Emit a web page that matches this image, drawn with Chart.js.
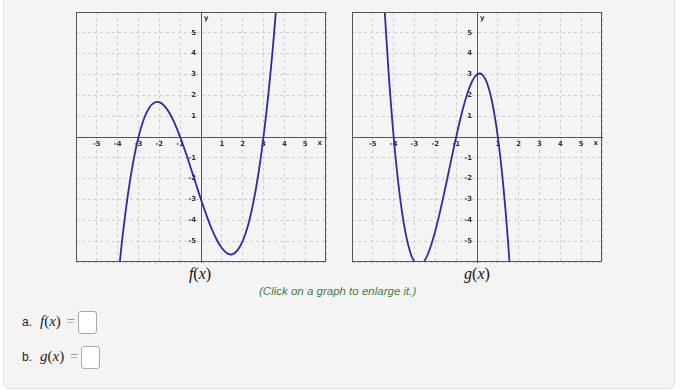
<!DOCTYPE html>
<html>
<head>
<meta charset="utf-8">
<script src="https://cdn.jsdelivr.net/npm/chart.js@4.4.1/dist/chart.umd.min.js"></script>
<style>
  body { margin: 0; background: #fff; width: 700px; height: 391px; overflow: hidden; position: relative; font-family: "Liberation Sans", Arial, sans-serif; }
  #panel { position: absolute; left: 3px; top: -10px; width: 670px; height: 397px; background: #f4f4f4; border: 1px solid #e4e4e4; border-radius: 6px; }
  .plot { position: absolute; top: 11px; width: 252px; height: 252px; }
  .fname { position: absolute; top: 265px; font-family: "Liberation Serif", serif; font-size: 16px; color: #111; transform: translateX(-50%); }
  .fname i { font-style: italic; }
  #hint { position: absolute; left: 259px; top: 285px; font-size: 11.5px; font-style: italic; color: #3f7f3a; }
  .answer { position: absolute; left: 22px; font-size: 12px; color: #222; }
  .answer .m { font-family: "Liberation Serif", serif; font-size: 15px; margin-left: 8px; }
  .answer .eq { color: #888; margin: 0 3px 0 2px; }
  .box { display: inline-block; width: 17px; height: 21px; border: 1px solid #a9a9a9; border-radius: 3px; background: #fff; vertical-align: middle; }
</style>
</head>
<body>
<div id="panel"></div>
<div class="plot" style="left:75px"><canvas id="fChart"></canvas></div>
<div class="plot" style="left:351px"><canvas id="gChart"></canvas></div>
<div class="fname" style="left:200px"><i>f</i>(<i>x</i>)</div>
<div class="fname" style="left:477px"><i>g</i>(<i>x</i>)</div>
<div id="hint">(Click on a graph to enlarge it.)</div>
<div class="answer" style="top:311px">a.<span class="m"><i>f</i>(<i>x</i>) <span class="eq">=</span></span><span class="box"></span></div>
<div class="answer" style="top:346px">b.<span class="m"><i>g</i>(<i>x</i>) <span class="eq">=</span></span><span class="box"></span></div>
<script>
// points
const fX = [-4, -3.75, -3.5, -3.25, -3, -2.75, -2.5, -2.25, -2, -1.75, -1.5, -1.25, -1, -0.75, -0.5, -0.25,
            0, 0.25, 0.5, 0.75, 1, 1.25, 1.5, 1.75, 2, 2.25, 2.5, 2.75, 3, 3.25, 3.5, 3.75];
const fY = [-7, -4.64, -2.71, -1.17, 0, 0.84, 1.38, 1.64, 1.67, 1.48, 1.13, 0.62, 0, -0.7, -1.46, -2.23,
            -3, -3.72, -4.38, -4.92, -5.33, -5.58, -5.63, -5.44, -5, -4.27, -3.21, -1.8, 0, 2.21, 4.88, 8.02];

const gX = [-4.5, -4.25, -4, -3.75, -3.5, -3.25, -3, -2.75, -2.5, -2.25, -2, -1.75, -1.5, -1.25, -1,
            -0.75, -0.5, -0.25, 0, 0.25, 0.5, 0.75, 1, 1.25, 1.5, 1.75];
const gY = [7.22, 3.2, 0, -2.45, -4.22, -5.38, -6, -6.15, -5.91, -5.33, -4.5, -3.48, -2.34, -1.16, 0,
            1.07, 1.97, 2.64, 3, 2.99, 2.53, 1.56, 0, -2.21, -5.16, -8.89];

const axisMin = -6;
const axisMax = 6;

function xLabel(v) {
  if (v === 0 || v === axisMin || v === axisMax) return '';
  return String(v);
}

function yLabel(v) {
  if (v === 0 || v === axisMin || v === axisMax) return '';
  return v + '  ';
}

function flatten(scale) {
  scale.width = scale.isHorizontal() ? scale.width : 0;
  scale.height = scale.isHorizontal() ? 0 : scale.height;
  scale.paddingTop = 0;
  scale.paddingBottom = 0;
  scale.paddingLeft = 0;
  scale.paddingRight = 0;
}

const frame = {
  id: 'frame',
  afterDraw(chart) {
    const { ctx, chartArea, scales } = chart;
    ctx.save();
    ctx.strokeStyle = '#555';
    ctx.lineWidth = 1;
    ctx.strokeRect(chartArea.left + 0.5, chartArea.top + 0.5, chartArea.width - 1, chartArea.height - 1);
    ctx.fillStyle = '#333';
    ctx.font = 'bold 7px "DejaVu Sans"';
    ctx.textBaseline = 'middle';
    ctx.textAlign = 'left';
    ctx.fillText('y', scales.x.getPixelForValue(0) + 3, chartArea.top + 6);
    ctx.textAlign = 'center';
    ctx.fillText('x', scales.x.getPixelForValue(5.7), scales.y.getPixelForValue(0) + 6);
    ctx.restore();
  }
};

function makeScale(pos, labelFn) {
  return {
    type: 'linear',
    position: pos,
    min: axisMin,
    max: axisMax,
    afterFit: flatten,
    grid: { color: '#cfcfcf', lineWidth: 1, drawTicks: false },
    border: { display: true, color: '#555', width: 1, dash: [3, 3] },
    ticks: {
      stepSize: 1,
      autoSkip: false,
      maxRotation: 0,
      padding: 3,
      color: '#333',
      font: { family: 'DejaVu Sans', size: 7, weight: 'bold' },
      callback: labelFn
    }
  };
}

function makeGraph(id, xs, ys) {
  const points = xs.map((x, i) => ({ x: x, y: ys[i] }));
  return new Chart(document.getElementById(id), {
    type: 'line',
    data: {
      datasets: [{
        data: points,
        borderColor: '#2c2ca0',
        borderWidth: 1.8,
        pointRadius: 0,
        tension: 0.4,
        fill: false
      }]
    },
    options: {
      responsive: true,
      maintainAspectRatio: false,
      animation: false,
      layout: { padding: 1 },
      plugins: { legend: { display: false }, tooltip: { enabled: false } },
      scales: {
        x: makeScale({ y: 0 }, xLabel),
        y: makeScale({ x: 0 }, yLabel)
      }
    },
    plugins: [frame]
  });
}

makeGraph('fChart', fX, fY);
makeGraph('gChart', gX, gY);
</script>
</body>
</html>
